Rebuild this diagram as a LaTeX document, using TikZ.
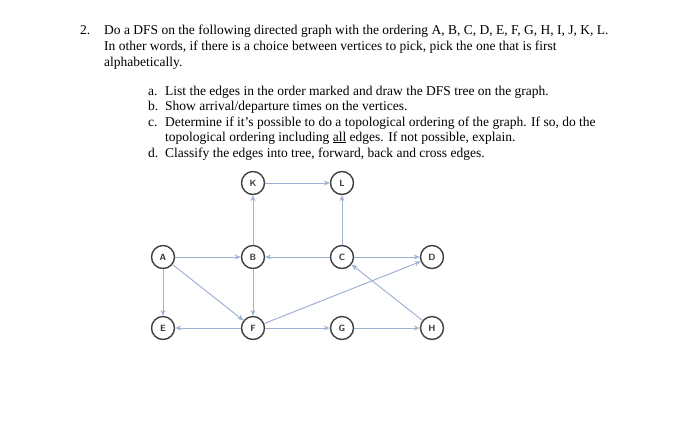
\documentclass[tikz,border=0pt]{standalone}
\usepackage{fontspec}
\setmainfont{Liberation Serif}
\usetikzlibrary{arrows.meta}
\definecolor{edgec}{RGB}{160,178,212}
\begin{document}
\begin{tikzpicture}[x=1pt,y=-1pt,
  txt/.style={anchor=base west,inner sep=0pt,font=\fontsize{13.5}{15}\selectfont},
  vtx/.style={circle,draw=black!75,line width=1.4pt,minimum size=23pt,inner sep=0pt,font=\sffamily\bfseries\fontsize{9}{10}\selectfont,text=black!80},
  edge/.style={draw=edgec,line width=1pt,-{Stealth[length=6pt,width=5pt]}}]
\useasboundingbox (0,0) rectangle (700,429);
\node[txt] (n2) at (80,34) {2.};
\node[txt] (l1) at (104,34) {Do a DFS on the following directed graph with the ordering A, B, C, D, E, F, G, H, I, J, K, L.};
\node[txt] (l2) at (104,50) {In other words, if there is a choice between vertices to pick, pick the one that is first};
\node[txt] (l3) at (104,66) {alphabetically.};
\node[txt] (ia) at (148,95) {a.};
\node[txt] (ta) at (165,95) {List the edges in the order marked and draw the DFS tree on the graph.};
\node[txt] (ib) at (148,110) {b.};
\node[txt] (tb) at (165,110) {Show arrival/departure times on the vertices.};
\node[txt] (ic) at (148,126) {c.};
\node[txt] (tc) at (165,126) {Determine if it's possible to do a topological ordering of the graph. If so, do the};
\node[txt] (tc2) at (165,141) {topological ordering including \underline{all} edges. If not possible, explain.};
\node[txt] (id) at (148,157) {d.};
\node[txt] (td) at (165,157) {Classify the edges into tree, forward, back and cross edges.};
\node[vtx] (K) at (253,183) {K};
\node[vtx] (L) at (342,183) {L};
\node[vtx] (A) at (163,257) {A};
\node[vtx] (B) at (253,257) {B};
\node[vtx] (C) at (342,257) {C};
\node[vtx] (D) at (432,257) {D};
\node[vtx] (E) at (163,328) {E};
\node[vtx] (F) at (253,328) {F};
\node[vtx] (G) at (342,328) {G};
\node[vtx] (H) at (432,328) {H};
\foreach \a/\b in {K/L,B/K,C/L,A/B,C/B,C/D,A/E,A/F,B/F,F/D,H/C,F/E,F/G,G/H}
  \draw[edge] (\a) -- (\b);
\end{tikzpicture}
\end{document}
